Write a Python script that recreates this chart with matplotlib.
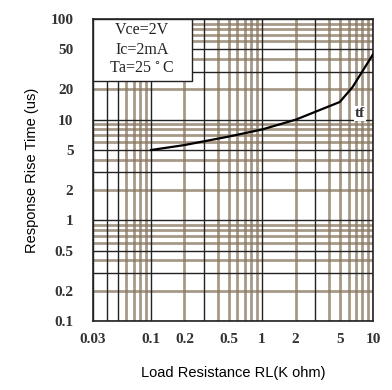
import matplotlib.pyplot as plt
from matplotlib.ticker import FixedLocator, NullFormatter

# tf curve
load_k = [0.1, 0.2, 0.5, 1, 2, 5, 6.5, 10]
rise_us = [5, 5.6, 6.8, 8, 10, 15, 21, 45]

xticks = [0.03, 0.1, 0.2, 0.5, 1, 2, 5, 10]
xlabels = ['0.03', '0.1', '0.2', '0.5', '1', '2', '5', '10']
yticks = [0.1, 0.2, 0.5, 1, 2, 5, 10, 20, 50, 100]
ylabels = ['0.1', '0.2', '0.5', '1', '2', '5', '10', '20', '50', '100']

# grid lines (dark and brown)
x_dark = [0.03, 0.04, 0.05, 0.1, 0.3, 1, 3, 10]
x_brown = [0.06, 0.07, 0.08, 0.09, 0.2, 0.4, 0.5, 0.6, 0.7, 0.8, 0.9,
           2, 4, 5, 6, 7, 8, 9]
y_dark = [0.1, 0.3, 0.5, 1, 3, 5, 10, 30, 50, 100]
y_brown = [0.2, 0.4, 0.6, 0.7, 0.8, 0.9, 2, 4, 6, 7, 8, 9,
           20, 40, 60, 70, 80, 90]

serif = 'Liberation Serif'
brown = '#8a7760'

fig = plt.figure(figsize=(3.92, 3.90), dpi=100)
ax = fig.add_axes([0.237, 0.177, 0.715, 0.774])
ax.set_xscale('log')
ax.set_yscale('log')
ax.set_xlim(0.03, 10)
ax.set_ylim(0.1, 100)

for v in x_brown:
    ax.axvline(v, color=brown, lw=2.0, alpha=0.75, zorder=1)
for v in y_brown:
    ax.axhline(v, color=brown, lw=2.0, alpha=0.75, zorder=1)
for v in x_dark:
    ax.axvline(v, color='#222222', lw=1.0, zorder=2)
for v in y_dark:
    ax.axhline(v, color='#222222', lw=1.0, zorder=2)

ax.plot(load_k, rise_us, color='black', lw=1.6, zorder=4)
ax.text(7.6, 11.5, 'tf', family=serif, fontsize=11, fontweight='bold',
        color='#333333', zorder=5, ha='center', va='center',
        bbox=dict(facecolor='white', edgecolor='none', pad=0.5))

# condition box in the upper left corner
ax.fill_between([0, 0.355], 0.795, 1.0, transform=ax.transAxes,
                facecolor='white', edgecolor='#222222', lw=1.0, zorder=3)
ax.text(0.175, 0.898, 'Vce=2V\nIc=2mA\nTa=25$^\\circ$C', transform=ax.transAxes,
        family=serif, fontsize=11.5, ha='center', va='center',
        linespacing=1.3, color='#222222', zorder=5)

ax.xaxis.set_major_locator(FixedLocator(xticks))
ax.set_xticklabels(xlabels, family=serif, fontsize=11, fontweight='bold',
                   color='#333333')
ax.xaxis.set_minor_formatter(NullFormatter())
ax.yaxis.set_major_locator(FixedLocator(yticks))
ax.set_yticklabels(ylabels, family=serif, fontsize=11, fontweight='bold',
                   color='#333333')
ax.yaxis.set_minor_formatter(NullFormatter())
ax.tick_params(which='both', length=0)
ax.tick_params(axis='x', pad=9)
ax.tick_params(axis='y', pad=14)

for s in ax.spines.values():
    s.set_color('#222222')
    s.set_linewidth(1.2)

ax.set_xlabel('Load Resistance RL(K ohm)', family='Liberation Sans',
              fontsize=10.5, labelpad=14)
ax.set_ylabel('Response Rise Time (us)', family='Liberation Sans',
              fontsize=10.5, labelpad=8)

fig.savefig('out.png', dpi=100)
